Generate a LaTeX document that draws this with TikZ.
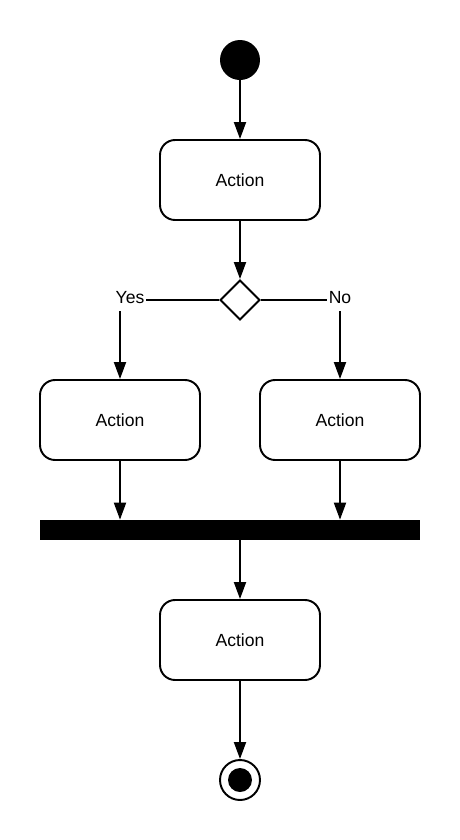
\documentclass[tikz,border=0pt]{standalone}
\usepackage{fontspec}
\setmainfont{Liberation Sans}
\usetikzlibrary{shapes.geometric,arrows.meta}
\tikzset{
  action/.style={draw,rounded corners=0.3cm,minimum width=3.2cm,minimum height=1.6cm,line width=1.1pt,font=\fontsize{10}{12}\selectfont},
  flow/.style={line width=1.1pt,-{Triangle[length=0.34cm,width=0.24cm]}},
  guard/.style={font=\fontsize{10}{12}\selectfont,inner sep=1pt}
}
\begin{document}
\begin{tikzpicture}[x=0.02cm,y=-0.02cm]
      \useasboundingbox (0,0) rectangle (460,840);
      \node[circle,fill=black,minimum size=0.8cm,inner sep=0] (start) at (240,60) {};
      \node[action] (act1) at (240,180) {Action};
      \node[diamond,draw,line width=1.1pt,minimum size=0.8cm,inner sep=0] (choice) at (240,300) {};
      \node[guard] (yes) at (130,298) {Yes};
      \node[guard] (no) at (340,298) {No};
      \node[action] (act2) at (120,420) {Action};
      \node[action] (act3) at (340,420) {Action};
      \node[rectangle,fill=black,minimum width=7.6cm,minimum height=0.4cm,inner sep=0] (bar) at (230,530) {};
      \node[action] (act4) at (240,640) {Action};
      \node[circle,draw,line width=1.1pt,minimum size=0.8cm,inner sep=0] (stop) at (240,780) {};
      \node[circle,fill=black,minimum size=0.48cm,inner sep=0] at (stop) {};
      \draw[flow] (start) -- (act1);
      \draw[flow] (act1) -- (choice);
      \draw[line width=1.1pt] (choice.west) -- (yes.east |- choice);
      \draw[line width=1.1pt] (choice.east) -- (no.west |- choice);
      \draw[flow] ([yshift=-0.1cm]yes.south -| act2) -- (act2.north);
      \draw[flow] ([yshift=-0.1cm]no.south -| act3) -- (act3.north);
      \draw[flow] (act2) -- (act2 |- bar.north);
      \draw[flow] (act3) -- (act3 |- bar.north);
      \draw[flow] (act4 |- bar.south) -- (act4);
      \draw[flow] (act4) -- (stop);
    \end{tikzpicture}
\end{document}
